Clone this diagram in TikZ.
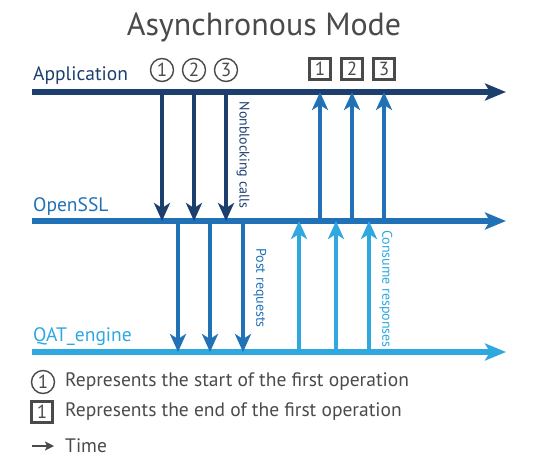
\documentclass[tikz,border=0pt]{standalone}
\usepackage{fontspec}
\setmainfont{PT Sans}
\usetikzlibrary{arrows.meta}
\definecolor{navy}{HTML}{1C3F6E}
\definecolor{midblue}{HTML}{2171B7}
\definecolor{lightblue}{HTML}{2EA8DF}
\definecolor{txtgray}{HTML}{4A4A4A}
\begin{document}
\begin{tikzpicture}[x=1pt,y=1pt,
  timeline/.style={line width=5.5pt,-{Stealth[length=21pt,width=17pt,inset=5pt]}},
  callarrow/.style={line width=4.6pt,-{Stealth[length=18pt,width=16pt,inset=5pt]}},
  lanelabel/.style={anchor=base west,inner sep=0pt,font=\fontsize{19.5}{22}\selectfont},
  sidelabel/.style={rotate=-90,inner sep=0pt,font=\fontsize{14}{16}\selectfont},
  startmark/.style={circle,draw=txtgray,line width=1.4pt,minimum size=23pt,inner sep=0pt,text=txtgray,font=\fontsize{19}{22}\selectfont},
  endmark/.style={rectangle,draw=txtgray,line width=3pt,minimum size=21pt,inner sep=0pt,text=txtgray,font=\fontsize{19}{22}\selectfont},
  legendtext/.style={anchor=west,inner sep=0pt,text=txtgray,font=\fontsize{19.5}{22}\selectfont}]
\useasboundingbox (0,0) rectangle (534,-466);
% title
\node[text=txtgray,font=\fontsize{32}{36}\selectfont,inner sep=0pt] (title) at (264,-27) {Asynchronous Mode};
% lanes
\coordinate (appL) at (32,-92);   \coordinate (appR) at (506,-92);
\coordinate (sslL) at (32,-221);  \coordinate (sslR) at (506,-221);
\coordinate (qatL) at (32,-352);  \coordinate (qatR) at (506,-352);
\draw[timeline,navy] (appL) -- (appR);
\draw[timeline,midblue] (sslL) -- (sslR);
\draw[timeline,lightblue] (qatL) -- (qatR);
\node[lanelabel,text=navy] (applbl) at (33,-80) {Application};
\node[lanelabel,text=midblue] (ssllbl) at (33,-211) {OpenSSL};
\node[lanelabel,text=lightblue] (qatlbl) at (33,-341) {QAT\_engine};
% start / end markers
\node[startmark] (s1) at (162,-70) {1};
\node[startmark] (s2) at (194,-70) {2};
\node[startmark] (s3) at (226,-70) {3};
\node[endmark] (e1) at (320,-69) {1};
\node[endmark] (e2) at (352,-69) {2};
\node[endmark] (e3) at (384,-69) {3};
% nonblocking calls
\foreach \i/\x in {1/162,2/194,3/226}{
  \coordinate (na\i) at (\x,-94);
  \coordinate (nb\i) at (\x,-221);
  \draw[callarrow,navy] (na\i) -- (nb\i);
}
\node[sidelabel,text=navy] (nblbl) at (243,-155) {Nonblocking calls};
% returns to application
\foreach \i/\x in {1/320,2/352,3/384}{
  \coordinate (ra\i) at (\x,-219);
  \coordinate (rb\i) at (\x,-92);
  \draw[callarrow,midblue] (ra\i) -- (rb\i);
}
% post requests
\foreach \i/\x in {1/178,2/210,3/243}{
  \coordinate (pa\i) at (\x,-223);
  \coordinate (pb\i) at (\x,-352);
  \draw[callarrow,midblue] (pa\i) -- (pb\i);
}
\node[sidelabel,text=midblue] (prlbl) at (260,-288) {Post requests};
% consume responses
\foreach \i/\x in {1/299,2/336,3/369}{
  \coordinate (ca\i) at (\x,-350);
  \coordinate (cb\i) at (\x,-221);
  \draw[callarrow,lightblue] (ca\i) -- (cb\i);
}
\node[sidelabel,text=lightblue] (crlbl) at (386,-289) {Consume responses};
% legend
\node[startmark] (ls) at (43,-382) {1};
\node[legendtext] (lst) at (65,-382) {Represents the start of the first operation};
\node[endmark] (le) at (42,-412) {1};
\node[legendtext] (let) at (65,-412) {Represents the end of the first operation};
\coordinate (lta) at (32,-446);
\coordinate (ltb) at (54,-446);
\draw[txtgray,line width=2.2pt,-{Stealth[length=9pt,width=9pt,inset=2pt]}] (lta) -- (ltb);
\node[legendtext] (ltt) at (65,-446) {Time};
\end{tikzpicture}
\end{document}
